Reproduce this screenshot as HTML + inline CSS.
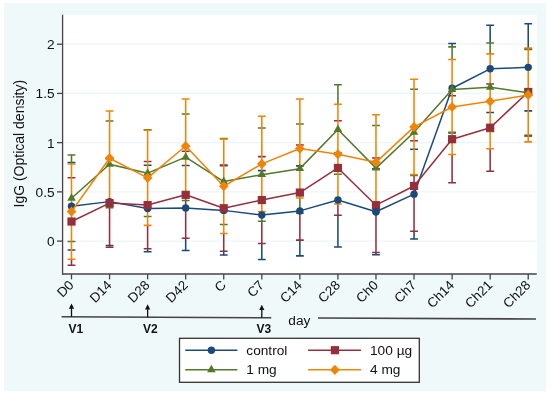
<!DOCTYPE html>
<html><head><meta charset="utf-8"><style>
html,body{margin:0;padding:0;background:#fff;width:550px;height:395px;overflow:hidden}
svg{display:block;filter:blur(0.3px)}
.t{font-family:"Liberation Sans",sans-serif;font-size:13.7px;fill:#111}
.xl{font-size:13.4px}
.yt{font-size:14px}
.b{font-family:"Liberation Sans",sans-serif;font-size:12px;font-weight:bold;fill:#111}
</style></head><body>
<svg width="550" height="395" viewBox="0 0 550 395">
<rect x="0" y="0" width="550" height="395" fill="#ffffff"/>
<rect x="4" y="3" width="542.3" height="388.4" fill="#f0f9fa"/>
<rect x="62.6" y="14.8" width="474.19999999999993" height="259.2" fill="#ffffff"/>
<path d="M63.6 241.10H536.8" stroke="#ebf6f9" stroke-width="1.2"/>
<path d="M63.6 191.88H536.8" stroke="#ebf6f9" stroke-width="1.2"/>
<path d="M63.6 142.65H536.8" stroke="#ebf6f9" stroke-width="1.2"/>
<path d="M63.6 93.42H536.8" stroke="#ebf6f9" stroke-width="1.2"/>
<path d="M63.6 44.20H536.8" stroke="#ebf6f9" stroke-width="1.2"/>
<path d="M147.62 248.68V251.83" stroke="#1b4a7a" stroke-width="1.55" fill="none"/>
<path d="M185.68 238.34V250.45" stroke="#1b4a7a" stroke-width="1.55" fill="none"/>
<path d="M223.74 251.34V255.08" stroke="#1b4a7a" stroke-width="1.55" fill="none"/>
<path d="M261.80 243.46V259.41" stroke="#1b4a7a" stroke-width="1.55" fill="none"/>
<path d="M299.86 240.12V255.87" stroke="#1b4a7a" stroke-width="1.55" fill="none"/>
<path d="M337.92 215.21V246.91" stroke="#1b4a7a" stroke-width="1.55" fill="none"/>
<path d="M375.98 252.42V254.78" stroke="#1b4a7a" stroke-width="1.55" fill="none"/>
<path d="M414.04 231.25V239.03" stroke="#1b4a7a" stroke-width="1.55" fill="none"/>
<path d="M452.10 43.41V46.86" stroke="#1b4a7a" stroke-width="1.55" fill="none"/>
<path d="M490.16 25.20V43.02" stroke="#1b4a7a" stroke-width="1.55" fill="none"/>
<path d="M528.22 23.82V47.94" stroke="#1b4a7a" stroke-width="1.55" fill="none"/>
<path d="M67.60 162.54H75.40M67.60 249.96H75.40" stroke="#1b4a7a" stroke-width="1.55" fill="none"/>
<path d="M105.66 157.81H113.46M105.66 245.43H113.46" stroke="#1b4a7a" stroke-width="1.55" fill="none"/>
<path d="M143.72 165.20H151.52M143.72 251.83H151.52" stroke="#1b4a7a" stroke-width="1.55" fill="none"/>
<path d="M181.78 165.59H189.58M181.78 250.45H189.58" stroke="#1b4a7a" stroke-width="1.55" fill="none"/>
<path d="M219.84 165.69H227.64M219.84 255.08H227.64" stroke="#1b4a7a" stroke-width="1.55" fill="none"/>
<path d="M257.90 170.61H265.70M257.90 259.41H265.70" stroke="#1b4a7a" stroke-width="1.55" fill="none"/>
<path d="M295.96 165.88H303.76M295.96 255.87H303.76" stroke="#1b4a7a" stroke-width="1.55" fill="none"/>
<path d="M334.02 152.99H341.82M334.02 246.91H341.82" stroke="#1b4a7a" stroke-width="1.55" fill="none"/>
<path d="M372.08 168.74H379.88M372.08 254.78H379.88" stroke="#1b4a7a" stroke-width="1.55" fill="none"/>
<path d="M410.14 149.25H417.94M410.14 239.03H417.94" stroke="#1b4a7a" stroke-width="1.55" fill="none"/>
<path d="M448.20 43.41H456.00M448.20 133.00H456.00" stroke="#1b4a7a" stroke-width="1.55" fill="none"/>
<path d="M486.26 25.20H494.06M486.26 112.43H494.06" stroke="#1b4a7a" stroke-width="1.55" fill="none"/>
<path d="M524.32 23.82H532.12M524.32 110.85H532.12" stroke="#1b4a7a" stroke-width="1.55" fill="none"/>
<path d="M71.50 259.17V265.22" stroke="#962f3c" stroke-width="1.55" fill="none"/>
<path d="M109.56 207.63V247.20" stroke="#962f3c" stroke-width="1.55" fill="none"/>
<path d="M147.62 225.35V248.68" stroke="#962f3c" stroke-width="1.55" fill="none"/>
<path d="M185.68 200.44V238.34" stroke="#962f3c" stroke-width="1.55" fill="none"/>
<path d="M223.74 233.42V251.34" stroke="#962f3c" stroke-width="1.55" fill="none"/>
<path d="M261.80 221.31V243.46" stroke="#962f3c" stroke-width="1.55" fill="none"/>
<path d="M299.86 213.34V240.12" stroke="#962f3c" stroke-width="1.55" fill="none"/>
<path d="M337.92 204.08V215.21" stroke="#962f3c" stroke-width="1.55" fill="none"/>
<path d="M375.98 210.88V252.42" stroke="#962f3c" stroke-width="1.55" fill="none"/>
<path d="M414.04 175.43V231.25" stroke="#962f3c" stroke-width="1.55" fill="none"/>
<path d="M452.10 154.46V182.72" stroke="#962f3c" stroke-width="1.55" fill="none"/>
<path d="M490.16 148.75V171.30" stroke="#962f3c" stroke-width="1.55" fill="none"/>
<path d="M67.60 177.80H75.40M67.60 265.22H75.40" stroke="#962f3c" stroke-width="1.55" fill="none"/>
<path d="M105.66 158.99H113.46M105.66 247.20H113.46" stroke="#962f3c" stroke-width="1.55" fill="none"/>
<path d="M143.72 161.45H151.52M143.72 248.68H151.52" stroke="#962f3c" stroke-width="1.55" fill="none"/>
<path d="M181.78 151.31H189.58M181.78 238.34H189.58" stroke="#962f3c" stroke-width="1.55" fill="none"/>
<path d="M219.84 165.10H227.64M219.84 251.34H227.64" stroke="#962f3c" stroke-width="1.55" fill="none"/>
<path d="M257.90 156.63H265.70M257.90 243.46H265.70" stroke="#962f3c" stroke-width="1.55" fill="none"/>
<path d="M295.96 145.01H303.76M295.96 240.12H303.76" stroke="#962f3c" stroke-width="1.55" fill="none"/>
<path d="M334.02 120.70H341.82M334.02 215.21H341.82" stroke="#962f3c" stroke-width="1.55" fill="none"/>
<path d="M372.08 157.91H379.88M372.08 252.42H379.88" stroke="#962f3c" stroke-width="1.55" fill="none"/>
<path d="M410.14 140.68H417.94M410.14 231.25H417.94" stroke="#962f3c" stroke-width="1.55" fill="none"/>
<path d="M448.20 95.69H456.00M448.20 182.72H456.00" stroke="#962f3c" stroke-width="1.55" fill="none"/>
<path d="M486.26 84.07H494.06M486.26 171.30H494.06" stroke="#962f3c" stroke-width="1.55" fill="none"/>
<path d="M524.32 48.73H532.12M524.32 135.17H532.12" stroke="#962f3c" stroke-width="1.55" fill="none"/>
<path d="M71.50 154.96V163.96" stroke="#52782a" stroke-width="1.55" fill="none"/>
<path d="M109.56 205.46V207.63" stroke="#52782a" stroke-width="1.55" fill="none"/>
<path d="M147.62 129.85V130.25" stroke="#52782a" stroke-width="1.55" fill="none"/>
<path d="M185.68 193.06V200.44" stroke="#52782a" stroke-width="1.55" fill="none"/>
<path d="M223.74 138.61V139.11" stroke="#52782a" stroke-width="1.55" fill="none"/>
<path d="M261.80 211.56V221.31" stroke="#52782a" stroke-width="1.55" fill="none"/>
<path d="M299.86 198.03V213.34" stroke="#52782a" stroke-width="1.55" fill="none"/>
<path d="M337.92 84.76V104.25" stroke="#52782a" stroke-width="1.55" fill="none"/>
<path d="M375.98 209.99V210.88" stroke="#52782a" stroke-width="1.55" fill="none"/>
<path d="M414.04 174.55V175.43" stroke="#52782a" stroke-width="1.55" fill="none"/>
<path d="M452.10 46.86V59.56" stroke="#52782a" stroke-width="1.55" fill="none"/>
<path d="M490.16 43.02V53.85" stroke="#52782a" stroke-width="1.55" fill="none"/>
<path d="M67.60 154.96H75.40M67.60 241.59H75.40" stroke="#52782a" stroke-width="1.55" fill="none"/>
<path d="M105.66 120.99H113.46M105.66 207.63H113.46" stroke="#52782a" stroke-width="1.55" fill="none"/>
<path d="M143.72 129.85H151.52M143.72 216.49H151.52" stroke="#52782a" stroke-width="1.55" fill="none"/>
<path d="M181.78 113.90H189.58M181.78 200.44H189.58" stroke="#52782a" stroke-width="1.55" fill="none"/>
<path d="M219.84 138.61H227.64M219.84 224.46H227.64" stroke="#52782a" stroke-width="1.55" fill="none"/>
<path d="M257.90 127.98H265.70M257.90 221.31H265.70" stroke="#52782a" stroke-width="1.55" fill="none"/>
<path d="M295.96 123.94H303.76M295.96 213.34H303.76" stroke="#52782a" stroke-width="1.55" fill="none"/>
<path d="M334.02 84.76H341.82M334.02 174.15H341.82" stroke="#52782a" stroke-width="1.55" fill="none"/>
<path d="M372.08 125.42H379.88M372.08 210.88H379.88" stroke="#52782a" stroke-width="1.55" fill="none"/>
<path d="M410.14 89.19H417.94M410.14 175.43H417.94" stroke="#52782a" stroke-width="1.55" fill="none"/>
<path d="M448.20 46.86H456.00M448.20 132.31H456.00" stroke="#52782a" stroke-width="1.55" fill="none"/>
<path d="M486.26 43.02H494.06M486.26 131.43H494.06" stroke="#52782a" stroke-width="1.55" fill="none"/>
<path d="M524.32 49.52H532.12M524.32 136.15H532.12" stroke="#52782a" stroke-width="1.55" fill="none"/>
<path d="M71.50 163.96V259.17" stroke="#f08406" stroke-width="1.55" fill="none"/>
<path d="M109.56 110.95V205.46" stroke="#f08406" stroke-width="1.55" fill="none"/>
<path d="M147.62 130.25V225.35" stroke="#f08406" stroke-width="1.55" fill="none"/>
<path d="M185.68 98.94V193.06" stroke="#f08406" stroke-width="1.55" fill="none"/>
<path d="M223.74 139.11V233.42" stroke="#f08406" stroke-width="1.55" fill="none"/>
<path d="M261.80 116.27V211.56" stroke="#f08406" stroke-width="1.55" fill="none"/>
<path d="M299.86 99.09V198.03" stroke="#f08406" stroke-width="1.55" fill="none"/>
<path d="M337.92 104.25V204.08" stroke="#f08406" stroke-width="1.55" fill="none"/>
<path d="M375.98 114.69V209.99" stroke="#f08406" stroke-width="1.55" fill="none"/>
<path d="M414.04 79.25V174.55" stroke="#f08406" stroke-width="1.55" fill="none"/>
<path d="M452.10 59.56V154.46" stroke="#f08406" stroke-width="1.55" fill="none"/>
<path d="M490.16 53.85V148.75" stroke="#f08406" stroke-width="1.55" fill="none"/>
<path d="M528.22 47.94V141.86" stroke="#f08406" stroke-width="1.55" fill="none"/>
<path d="M67.60 163.96H75.40M67.60 259.17H75.40" stroke="#f08406" stroke-width="1.55" fill="none"/>
<path d="M105.66 110.95H113.46M105.66 205.46H113.46" stroke="#f08406" stroke-width="1.55" fill="none"/>
<path d="M143.72 130.25H151.52M143.72 225.35H151.52" stroke="#f08406" stroke-width="1.55" fill="none"/>
<path d="M181.78 98.94H189.58M181.78 193.06H189.58" stroke="#f08406" stroke-width="1.55" fill="none"/>
<path d="M219.84 139.11H227.64M219.84 233.42H227.64" stroke="#f08406" stroke-width="1.55" fill="none"/>
<path d="M257.90 116.27H265.70M257.90 211.56H265.70" stroke="#f08406" stroke-width="1.55" fill="none"/>
<path d="M295.96 99.09H303.76M295.96 198.03H303.76" stroke="#f08406" stroke-width="1.55" fill="none"/>
<path d="M334.02 104.25H341.82M334.02 204.08H341.82" stroke="#f08406" stroke-width="1.55" fill="none"/>
<path d="M372.08 114.69H379.88M372.08 209.99H379.88" stroke="#f08406" stroke-width="1.55" fill="none"/>
<path d="M410.14 79.25H417.94M410.14 174.55H417.94" stroke="#f08406" stroke-width="1.55" fill="none"/>
<path d="M448.20 59.56H456.00M448.20 154.46H456.00" stroke="#f08406" stroke-width="1.55" fill="none"/>
<path d="M486.26 53.85H494.06M486.26 148.75H494.06" stroke="#f08406" stroke-width="1.55" fill="none"/>
<path d="M524.32 47.94H532.12M524.32 141.86H532.12" stroke="#f08406" stroke-width="1.55" fill="none"/>
<polyline points="71.50,206.25 109.56,201.62 147.62,208.51 185.68,208.02 223.74,210.38 261.80,215.01 299.86,210.88 337.92,199.95 375.98,211.76 414.04,194.14 452.10,88.21 490.16,68.81 528.22,67.34" stroke="#1b4a7a" stroke-width="1.5" fill="none" stroke-linejoin="round"/>
<circle cx="71.50" cy="206.25" r="3.7" fill="#1b4a7a"/>
<circle cx="109.56" cy="201.62" r="3.7" fill="#1b4a7a"/>
<circle cx="147.62" cy="208.51" r="3.7" fill="#1b4a7a"/>
<circle cx="185.68" cy="208.02" r="3.7" fill="#1b4a7a"/>
<circle cx="223.74" cy="210.38" r="3.7" fill="#1b4a7a"/>
<circle cx="261.80" cy="215.01" r="3.7" fill="#1b4a7a"/>
<circle cx="299.86" cy="210.88" r="3.7" fill="#1b4a7a"/>
<circle cx="337.92" cy="199.95" r="3.7" fill="#1b4a7a"/>
<circle cx="375.98" cy="211.76" r="3.7" fill="#1b4a7a"/>
<circle cx="414.04" cy="194.14" r="3.7" fill="#1b4a7a"/>
<circle cx="452.10" cy="88.21" r="3.7" fill="#1b4a7a"/>
<circle cx="490.16" cy="68.81" r="3.7" fill="#1b4a7a"/>
<circle cx="528.22" cy="67.34" r="3.7" fill="#1b4a7a"/>
<polyline points="71.50,221.51 109.56,203.10 147.62,205.07 185.68,194.83 223.74,208.22 261.80,200.05 299.86,192.56 337.92,167.95 375.98,205.17 414.04,185.97 452.10,139.20 490.16,127.69 528.22,91.95" stroke="#962f3c" stroke-width="1.5" fill="none" stroke-linejoin="round"/>
<rect x="67.40" y="217.41" width="8.2" height="8.2" fill="#962f3c"/>
<rect x="105.46" y="199.00" width="8.2" height="8.2" fill="#962f3c"/>
<rect x="143.52" y="200.97" width="8.2" height="8.2" fill="#962f3c"/>
<rect x="181.58" y="190.73" width="8.2" height="8.2" fill="#962f3c"/>
<rect x="219.64" y="204.12" width="8.2" height="8.2" fill="#962f3c"/>
<rect x="257.70" y="195.95" width="8.2" height="8.2" fill="#962f3c"/>
<rect x="295.76" y="188.46" width="8.2" height="8.2" fill="#962f3c"/>
<rect x="333.82" y="163.85" width="8.2" height="8.2" fill="#962f3c"/>
<rect x="371.88" y="201.07" width="8.2" height="8.2" fill="#962f3c"/>
<rect x="409.94" y="181.87" width="8.2" height="8.2" fill="#962f3c"/>
<rect x="448.00" y="135.10" width="8.2" height="8.2" fill="#962f3c"/>
<rect x="486.06" y="123.59" width="8.2" height="8.2" fill="#962f3c"/>
<rect x="524.12" y="87.85" width="8.2" height="8.2" fill="#962f3c"/>
<polyline points="71.50,198.27 109.56,164.31 147.62,173.17 185.68,157.17 223.74,181.54 261.80,174.65 299.86,168.64 337.92,129.46 375.98,168.15 414.04,132.31 452.10,89.59 490.16,87.22 528.22,92.83" stroke="#52782a" stroke-width="1.5" fill="none" stroke-linejoin="round"/>
<path d="M71.50 193.34L75.80 200.74L67.20 200.74Z" fill="#52782a"/>
<path d="M109.56 159.38L113.86 166.78L105.26 166.78Z" fill="#52782a"/>
<path d="M147.62 168.24L151.92 175.64L143.32 175.64Z" fill="#52782a"/>
<path d="M185.68 152.24L189.98 159.64L181.38 159.64Z" fill="#52782a"/>
<path d="M223.74 176.60L228.04 184.00L219.44 184.00Z" fill="#52782a"/>
<path d="M261.80 169.71L266.10 177.11L257.50 177.11Z" fill="#52782a"/>
<path d="M299.86 163.71L304.16 171.11L295.56 171.11Z" fill="#52782a"/>
<path d="M337.92 124.52L342.22 131.92L333.62 131.92Z" fill="#52782a"/>
<path d="M375.98 163.22L380.28 170.62L371.68 170.62Z" fill="#52782a"/>
<path d="M414.04 127.38L418.34 134.78L409.74 134.78Z" fill="#52782a"/>
<path d="M452.10 84.65L456.40 92.05L447.80 92.05Z" fill="#52782a"/>
<path d="M490.16 82.29L494.46 89.69L485.86 89.69Z" fill="#52782a"/>
<path d="M528.22 87.90L532.52 95.30L523.92 95.30Z" fill="#52782a"/>
<polyline points="71.50,211.56 109.56,158.21 147.62,177.80 185.68,146.00 223.74,186.26 261.80,163.92 299.86,148.56 337.92,154.17 375.98,162.34 414.04,126.90 452.10,107.01 490.16,101.30 528.22,94.90" stroke="#f08406" stroke-width="1.5" fill="none" stroke-linejoin="round"/>
<path d="M71.50 206.47L76.30 211.56L71.50 216.66L66.70 211.56Z" fill="#f08406"/>
<path d="M109.56 153.11L114.36 158.21L109.56 163.31L104.76 158.21Z" fill="#f08406"/>
<path d="M147.62 172.70L152.42 177.80L147.62 182.90L142.82 177.80Z" fill="#f08406"/>
<path d="M185.68 140.90L190.48 146.00L185.68 151.10L180.88 146.00Z" fill="#f08406"/>
<path d="M223.74 181.16L228.54 186.26L223.74 191.36L218.94 186.26Z" fill="#f08406"/>
<path d="M261.80 158.82L266.60 163.92L261.80 169.02L257.00 163.92Z" fill="#f08406"/>
<path d="M299.86 143.46L304.66 148.56L299.86 153.66L295.06 148.56Z" fill="#f08406"/>
<path d="M337.92 149.07L342.72 154.17L337.92 159.27L333.12 154.17Z" fill="#f08406"/>
<path d="M375.98 157.24L380.78 162.34L375.98 167.44L371.18 162.34Z" fill="#f08406"/>
<path d="M414.04 121.80L418.84 126.90L414.04 132.00L409.24 126.90Z" fill="#f08406"/>
<path d="M452.10 101.91L456.90 107.01L452.10 112.11L447.30 107.01Z" fill="#f08406"/>
<path d="M490.16 96.20L494.96 101.30L490.16 106.40L485.36 101.30Z" fill="#f08406"/>
<path d="M528.22 89.80L533.02 94.90L528.22 100.00L523.42 94.90Z" fill="#f08406"/>
<circle cx="375.98" cy="211.76" r="3.7" fill="#1b4a7a"/>
<path d="M62.6 14.8V274.6" stroke="#444444" stroke-width="1.3"/>
<path d="M62.0 274.0H536.8" stroke="#444444" stroke-width="1.3"/>
<path d="M57 241.10H62.6" stroke="#444444" stroke-width="1.3"/>
<text x="54.6" y="246.10" text-anchor="end" class="t">0</text>
<path d="M57 191.88H62.6" stroke="#444444" stroke-width="1.3"/>
<text x="54.6" y="196.88" text-anchor="end" class="t">0.5</text>
<path d="M57 142.65H62.6" stroke="#444444" stroke-width="1.3"/>
<text x="54.6" y="147.65" text-anchor="end" class="t">1</text>
<path d="M57 93.42H62.6" stroke="#444444" stroke-width="1.3"/>
<text x="54.6" y="98.42" text-anchor="end" class="t">1.5</text>
<path d="M57 44.20H62.6" stroke="#444444" stroke-width="1.3"/>
<text x="54.6" y="49.20" text-anchor="end" class="t">2</text>
<path d="M71.50 274.0V279.4" stroke="#444444" stroke-width="1.3"/>
<text transform="translate(74.50,286.00) rotate(-45)" text-anchor="end" class="t xl">D0</text>
<path d="M109.56 274.0V279.4" stroke="#444444" stroke-width="1.3"/>
<text transform="translate(112.56,286.00) rotate(-45)" text-anchor="end" class="t xl">D14</text>
<path d="M147.62 274.0V279.4" stroke="#444444" stroke-width="1.3"/>
<text transform="translate(150.62,286.00) rotate(-45)" text-anchor="end" class="t xl">D28</text>
<path d="M185.68 274.0V279.4" stroke="#444444" stroke-width="1.3"/>
<text transform="translate(188.68,286.00) rotate(-45)" text-anchor="end" class="t xl">D42</text>
<path d="M223.74 274.0V279.4" stroke="#444444" stroke-width="1.3"/>
<text transform="translate(226.74,286.00) rotate(-45)" text-anchor="end" class="t xl">C</text>
<path d="M261.80 274.0V279.4" stroke="#444444" stroke-width="1.3"/>
<text transform="translate(264.80,286.00) rotate(-45)" text-anchor="end" class="t xl">C7</text>
<path d="M299.86 274.0V279.4" stroke="#444444" stroke-width="1.3"/>
<text transform="translate(302.86,286.00) rotate(-45)" text-anchor="end" class="t xl">C14</text>
<path d="M337.92 274.0V279.4" stroke="#444444" stroke-width="1.3"/>
<text transform="translate(340.92,286.00) rotate(-45)" text-anchor="end" class="t xl">C28</text>
<path d="M375.98 274.0V279.4" stroke="#444444" stroke-width="1.3"/>
<text transform="translate(378.98,286.00) rotate(-45)" text-anchor="end" class="t xl">Ch0</text>
<path d="M414.04 274.0V279.4" stroke="#444444" stroke-width="1.3"/>
<text transform="translate(417.04,286.00) rotate(-45)" text-anchor="end" class="t xl">Ch7</text>
<path d="M452.10 274.0V279.4" stroke="#444444" stroke-width="1.3"/>
<text transform="translate(455.10,286.00) rotate(-45)" text-anchor="end" class="t xl">Ch14</text>
<path d="M490.16 274.0V279.4" stroke="#444444" stroke-width="1.3"/>
<text transform="translate(493.16,286.00) rotate(-45)" text-anchor="end" class="t xl">Ch21</text>
<path d="M528.22 274.0V279.4" stroke="#444444" stroke-width="1.3"/>
<text transform="translate(531.22,286.00) rotate(-45)" text-anchor="end" class="t xl">Ch28</text>
<text transform="translate(24,143.7) rotate(-90)" text-anchor="middle" class="t yt">IgG (Optical density)</text>
<path d="M61.6 316.80L271.3 317.77M318 317.99L536 319.00" stroke="#444444" stroke-width="1.6"/>
<path d="M71.50 316.85V307.60" stroke="#111" stroke-width="1.3"/>
<path d="M71.50 303.60L74.10 308.80H68.90Z" fill="#111"/>
<path d="M147.62 317.20V308.30" stroke="#111" stroke-width="1.3"/>
<path d="M147.62 304.30L150.22 309.50H145.02Z" fill="#111"/>
<path d="M261.80 317.73V308.80" stroke="#111" stroke-width="1.3"/>
<path d="M261.80 304.80L264.40 310.00H259.20Z" fill="#111"/>
<text x="68.5" y="332.6" class="b">V1</text>
<text x="143.0" y="332.6" class="b">V2</text>
<text x="256.6" y="332.6" class="b">V3</text>
<text x="288.3" y="324.6" class="t">day</text>
<rect x="179.5" y="338.3" width="239.8" height="44.0" fill="#ffffff" stroke="#333" stroke-width="1.3"/>
<path d="M185.2 350.2H237.4" stroke="#1b4a7a" stroke-width="1.5"/>
<circle cx="211.40" cy="350.20" r="3.7" fill="#1b4a7a"/>
<text x="246.3" y="354.80" class="t">control</text>
<path d="M308.1 350.2H361.1" stroke="#962f3c" stroke-width="1.5"/>
<rect x="330.80" y="346.10" width="8.2" height="8.2" fill="#962f3c"/>
<text x="370" y="354.80" class="t">100 µg</text>
<path d="M185.2 369.8H237.4" stroke="#52782a" stroke-width="1.5"/>
<path d="M211.40 364.87L215.70 372.27L207.10 372.27Z" fill="#52782a"/>
<text x="246.3" y="374.40" class="t">1 mg</text>
<path d="M308.1 369.8H361.1" stroke="#f08406" stroke-width="1.5"/>
<path d="M334.90 364.70L339.70 369.80L334.90 374.90L330.10 369.80Z" fill="#f08406"/>
<text x="370" y="374.40" class="t">4 mg</text>
</svg>
</body></html>
